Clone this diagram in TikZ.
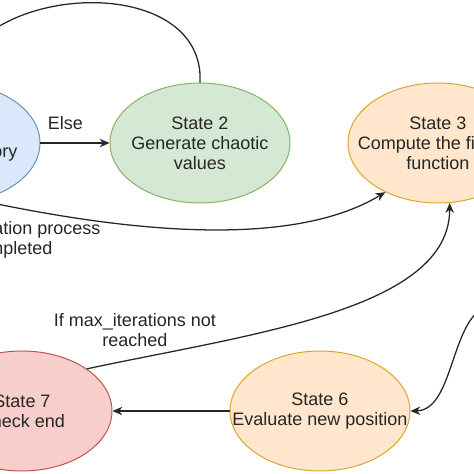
\documentclass[tikz,border=0pt]{standalone}
\usepackage{fontspec}
\setmainfont{Liberation Sans}
\usetikzlibrary{shapes.geometric, arrows.meta}

\definecolor{bluefill}{HTML}{DAE8FC}
\definecolor{blueline}{HTML}{6C8EBF}
\definecolor{greenfill}{HTML}{D5E8D4}
\definecolor{greenline}{HTML}{82B366}
\definecolor{orangefill}{HTML}{FFE6CC}
\definecolor{orangeline}{HTML}{D7A72A}
\definecolor{redfill}{HTML}{F8CECC}
\definecolor{redline}{HTML}{B85450}

\begin{document}
\begin{tikzpicture}
		% We need to define the drawing style
		[state/.style={ellipse, minimum width=4.5cm, minimum height=3cm, inner sep=0pt, line width=0.7pt},
		statetext/.style={align=center, font=\fontsize{12.8}{14.2}\selectfont, text=black!85},
		trans/.style={draw=black!85, line width=0.9pt, -{Stealth[length=7pt,width=6pt]}},
		plain/.style={draw=black!85, line width=0.9pt}]

		\useasboundingbox (0,0) rectangle (11.85,11.85);

		% First the states of the upper row
		\node[state, fill=bluefill, draw=blueline] (s1) at (-1.25,8.275) {};
		\node[state, fill=greenfill, draw=greenline] (s2) at (5.0,8.275) {};
		\node[state, fill=orangefill, draw=orangeline] (s3) at (10.95,8.275) {};
		\node[statetext] (s1text) at (s1) {State 1\\Initialize memory};
		\node[statetext] (s2text) at (s2) {State 2\\Generate chaotic\\values};
		\node[statetext] (s3text) at (s3) {State 3\\Compute the fitness\\function};

		% Then the lower row
		\node[state, fill=redfill, draw=redline] (s7) at (0.55,1.575) {};
		\node[state, fill=orangefill, draw=orangeline] (s6) at (8.0,1.575) {};
		\node[statetext] (s7text) at (s7) {State 7\\Check end};
		\node[statetext] (s6text) at (s6) {State 6\\Evaluate new position};

		% Free ends of the transitions that leave the picture
		\coordinate (loopend) at (-0.75,10.6);
		\coordinate (optstart) at (-1.0,6.95);
		\coordinate (evalstart) at (12.25,4.225);

		% Transitions
		\draw[trans] (s1.east) -- (s2.west)
			node[statetext, pos=0.36, above=6pt] (elselabel) {Else};
		\draw[plain] (s2.north) .. controls (5.125,12.225) and (0.75,12.35) .. (loopend);
		\draw[trans] (optstart) .. controls (3.0,6.05) and (7.25,5.6) .. (s3.223);
		\node[statetext] (optlabel) at (0.275,5.85) {If optimization process\\completed};
		\draw[trans] (s7.33) .. controls (6.25,3.5) and (11.25,4.1) .. (s3.281);
		\node[statetext] (maxlabel) at (3.375,3.6) {If max\_iterations not\\reached};
		\draw[trans] (evalstart) .. controls (11.25,3.975) and (11.375,1.6) .. (s6.east);
		\draw[trans] (s6.west) -- (s7.east);
	\end{tikzpicture}
\end{document}
